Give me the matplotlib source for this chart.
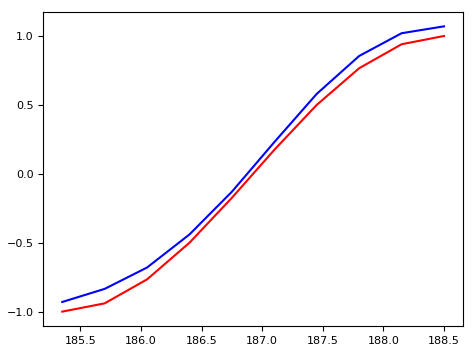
import matplotlib
matplotlib.use('Agg')
import matplotlib.pyplot as plt

# Data
x = [185.35, 185.70, 186.05, 186.40, 186.75, 187.10, 187.45, 187.80, 188.15, 188.50]
blue_y = [-0.93, -0.835, -0.68, -0.44, -0.13, 0.23, 0.58, 0.855, 1.02, 1.07]
red_y = [-1.0, -0.94, -0.766, -0.5, -0.174, 0.174, 0.5, 0.766, 0.94, 1.0]

fig = plt.figure(figsize=(4.74, 3.55), dpi=100)
ax = fig.add_subplot(111)
fig.subplots_adjust(left=0.091, right=0.977, top=0.966, bottom=0.082)

ax.plot(x, blue_y, color='blue')
ax.plot(x, red_y, color='red')

ax.set_xticks([185.5, 186.0, 186.5, 187.0, 187.5, 188.0, 188.5])
ax.set_yticks([-1.0, -0.5, 0.0, 0.5, 1.0])
ax.tick_params(labelsize=8)

fig.savefig('out.png', dpi=100)
